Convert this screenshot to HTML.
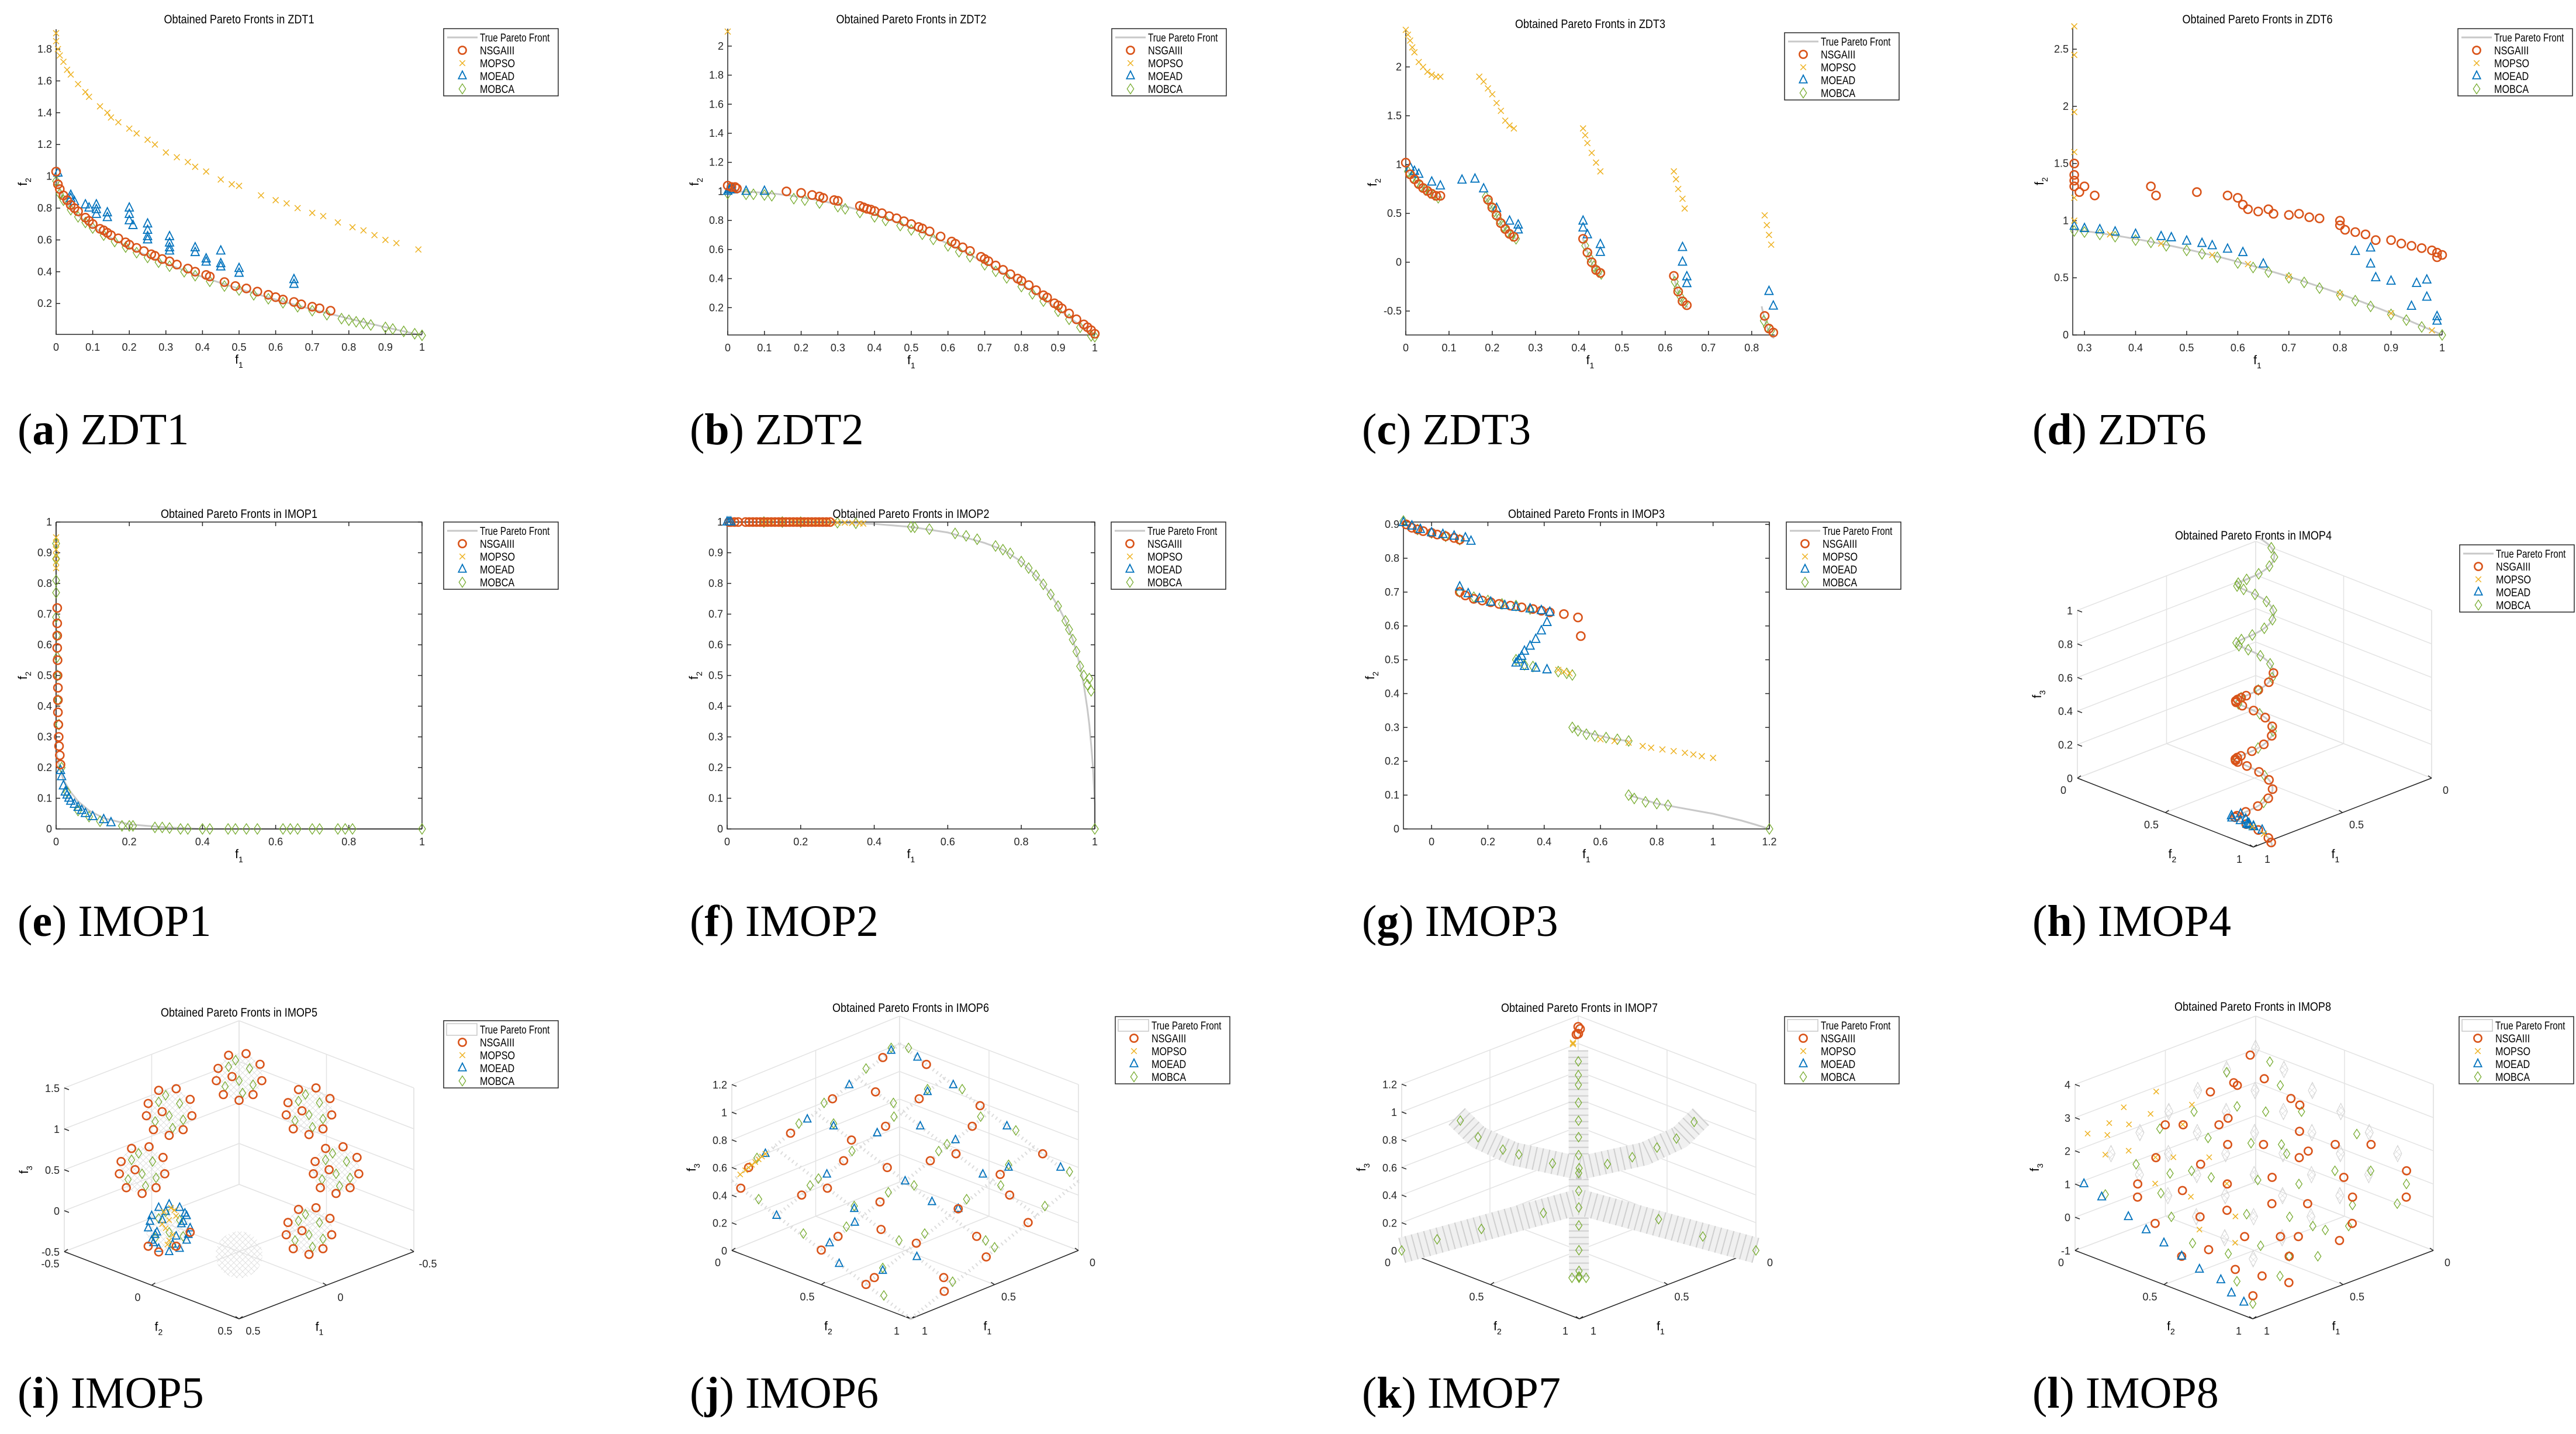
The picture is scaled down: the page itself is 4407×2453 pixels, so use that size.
<!DOCTYPE html>
<html><head><meta charset="utf-8">
<style>
html,body{margin:0;padding:0;background:#fff;}
svg{display:block;font-family:"Liberation Sans",sans-serif;}
.cap{font-family:"Liberation Serif",serif;font-size:76px;fill:#000;}
</style></head>
<body>
<svg id="fig" width="4407" height="2453" viewBox="0 0 4407 2453" xmlns="http://www.w3.org/2000/svg">
<defs>
<pattern id="hatch" width="10" height="10" patternUnits="userSpaceOnUse"><path d="M0,0L10,10M10,0L0,10" stroke="#dcdcdc" stroke-width="0.8"/></pattern>
</defs>
<rect width="4407" height="2453" fill="#fff"/>
</svg>
<script>
// ---------------- DATA ----------------
// ZDT1
const zdt1_ns_x=[0,0.005,0.01,0.02,0.03,0.04,0.05,0.06,0.08,0.09,0.1,0.12,0.13,0.14,0.15,0.17,0.19,0.2,0.22,0.24,0.26,0.27,0.29,0.31,0.33,0.36,0.38,0.41,0.42,0.46,0.49,0.52,0.55,0.58,0.6,0.62,0.65,0.67,0.7,0.72,0.75];
const zdt1_ns_y=[1.03,0.95,0.92,0.88,0.85,0.82,0.8,0.78,0.74,0.72,0.7,0.67,0.66,0.645,0.63,0.61,0.585,0.57,0.55,0.53,0.51,0.5,0.48,0.465,0.445,0.42,0.4,0.38,0.37,0.335,0.31,0.295,0.275,0.255,0.24,0.225,0.21,0.195,0.18,0.17,0.155];
const zdt1_mp_x=[0,0,0.005,0.01,0.02,0.03,0.04,0.06,0.08,0.09,0.12,0.14,0.15,0.17,0.2,0.22,0.25,0.27,0.3,0.33,0.36,0.38,0.41,0.45,0.48,0.5,0.56,0.6,0.63,0.66,0.7,0.73,0.77,0.81,0.84,0.87,0.9,0.93,0.99];
const zdt1_mp_y=[1.9,1.85,1.8,1.76,1.72,1.67,1.64,1.58,1.53,1.5,1.44,1.4,1.37,1.34,1.3,1.27,1.23,1.2,1.15,1.12,1.09,1.06,1.03,0.98,0.95,0.94,0.88,0.85,0.83,0.8,0.77,0.75,0.71,0.68,0.66,0.63,0.6,0.58,0.54];
const zdt1_me_x=[0.005,0.04,0.04,0.05,0.08,0.09,0.11,0.11,0.11,0.14,0.14,0.2,0.2,0.2,0.21,0.25,0.25,0.25,0.25,0.31,0.31,0.31,0.31,0.38,0.38,0.41,0.41,0.45,0.45,0.45,0.5,0.5,0.65,0.65];
const zdt1_me_y=[1.02,0.88,0.86,0.84,0.82,0.8,0.82,0.79,0.76,0.77,0.74,0.8,0.76,0.72,0.69,0.7,0.66,0.62,0.6,0.62,0.58,0.55,0.53,0.55,0.52,0.48,0.46,0.53,0.45,0.43,0.42,0.39,0.35,0.32];
const zdt1_mb_x=[0,0.01,0.02,0.04,0.06,0.08,0.1,0.13,0.16,0.19,0.22,0.25,0.28,0.31,0.35,0.38,0.42,0.46,0.5,0.54,0.58,0.62,0.66,0.7,0.74,0.78,0.8,0.82,0.84,0.86,0.9,0.92,0.95,0.98,1.0];
const zdt1_mb_y=[0.97,0.89,0.85,0.79,0.745,0.71,0.675,0.63,0.59,0.555,0.52,0.49,0.46,0.435,0.4,0.375,0.34,0.31,0.285,0.255,0.23,0.205,0.18,0.155,0.13,0.105,0.095,0.085,0.075,0.065,0.05,0.04,0.025,0.01,0.0];
// ZDT2
const zdt2_ns_x=[0,0.01,0.02,0.025,0.16,0.2,0.23,0.25,0.26,0.29,0.3,0.36,0.37,0.38,0.39,0.4,0.42,0.44,0.46,0.48,0.5,0.52,0.53,0.55,0.58,0.61,0.62,0.64,0.66,0.69,0.7,0.71,0.73,0.75,0.77,0.79,0.8,0.82,0.84,0.86,0.87,0.89,0.9,0.91,0.93,0.95,0.97,0.98,0.99,1.0];
const zdt2_ns_y=[1.04,1.03,1.03,1.02,1.0,0.99,0.975,0.965,0.955,0.94,0.935,0.9,0.89,0.88,0.875,0.865,0.85,0.83,0.815,0.795,0.775,0.755,0.745,0.725,0.69,0.655,0.64,0.615,0.59,0.55,0.535,0.52,0.49,0.46,0.43,0.4,0.385,0.355,0.32,0.285,0.27,0.23,0.215,0.195,0.16,0.12,0.085,0.065,0.045,0.02];
const zdt2_mp_x=[0];
const zdt2_mp_y=[2.1];
const zdt2_me_x=[0,0.005,0.01,0.015,0.05,0.1];
const zdt2_me_y=[1.0,1.01,1.02,1.01,1.0,1.0];
const zdt2_mb_x=[0,0.05,0.07,0.1,0.12,0.18,0.21,0.25,0.3,0.32,0.36,0.4,0.43,0.47,0.5,0.53,0.56,0.6,0.63,0.66,0.7,0.73,0.76,0.8,0.83,0.86,0.9,0.93,0.96,0.99,1.0];
const zdt2_mb_y=[0.985,0.98,0.98,0.975,0.97,0.95,0.94,0.92,0.895,0.88,0.855,0.825,0.8,0.765,0.735,0.705,0.67,0.625,0.585,0.55,0.495,0.45,0.405,0.345,0.295,0.245,0.175,0.12,0.065,0.005,0.0];
// ZDT3
const zdt3_ns_x=[0,0.01,0.02,0.03,0.04,0.05,0.06,0.07,0.08,0.19,0.2,0.21,0.22,0.23,0.24,0.25,0.41,0.42,0.43,0.44,0.45,0.62,0.63,0.64,0.65,0.83,0.84,0.85];
const zdt3_ns_y=[1.02,0.9,0.85,0.8,0.76,0.73,0.7,0.68,0.68,0.64,0.56,0.48,0.4,0.34,0.29,0.26,0.24,0.1,0.0,-0.08,-0.11,-0.14,-0.3,-0.4,-0.44,-0.55,-0.68,-0.72];
const zdt3_mp_x=[0,0.005,0.01,0.015,0.02,0.03,0.04,0.05,0.06,0.07,0.08,0.17,0.18,0.19,0.2,0.21,0.22,0.23,0.24,0.25,0.41,0.415,0.42,0.43,0.44,0.45,0.62,0.625,0.63,0.64,0.645,0.83,0.835,0.84,0.845];
const zdt3_mp_y=[2.38,2.33,2.27,2.2,2.15,2.05,2.0,1.95,1.92,1.9,1.9,1.9,1.85,1.78,1.72,1.63,1.55,1.45,1.4,1.37,1.37,1.3,1.22,1.12,1.02,0.93,0.93,0.85,0.75,0.65,0.55,0.48,0.38,0.28,0.18];
const zdt3_me_x=[0.01,0.02,0.03,0.06,0.08,0.13,0.16,0.18,0.21,0.24,0.26,0.26,0.41,0.41,0.42,0.45,0.45,0.64,0.64,0.65,0.65,0.84,0.85];
const zdt3_me_y=[0.97,0.93,0.9,0.82,0.78,0.84,0.85,0.75,0.55,0.42,0.38,0.33,0.42,0.35,0.28,0.18,0.1,0.15,0.0,-0.15,-0.22,-0.3,-0.45];
const zdt3_mb_x=[0.005,0.015,0.025,0.035,0.045,0.055,0.065,0.075,0.185,0.195,0.205,0.215,0.225,0.235,0.245,0.255,0.415,0.425,0.435,0.445,0.452,0.622,0.628,0.635,0.645,0.828,0.835,0.845];
const zdt3_mb_y=[0.93,0.87,0.82,0.78,0.74,0.71,0.69,0.66,0.67,0.6,0.52,0.44,0.37,0.31,0.27,0.24,0.17,0.05,-0.04,-0.1,-0.12,-0.2,-0.27,-0.35,-0.42,-0.6,-0.66,-0.7];
// ZDT6
const zdt6_ns_x=[0.28,0.28,0.28,0.28,0.29,0.3,0.32,0.43,0.44,0.52,0.58,0.6,0.61,0.62,0.64,0.66,0.67,0.7,0.72,0.74,0.76,0.8,0.8,0.81,0.83,0.85,0.87,0.9,0.92,0.94,0.96,0.98,0.99,1.0,0.99];
const zdt6_ns_y=[1.5,1.4,1.35,1.3,1.25,1.3,1.22,1.3,1.22,1.25,1.22,1.2,1.14,1.1,1.08,1.1,1.06,1.05,1.06,1.03,1.02,1.0,0.96,0.92,0.9,0.88,0.83,0.83,0.8,0.78,0.76,0.74,0.72,0.7,0.68];
const zdt6_mp_x=[0.28,0.28,0.28,0.28,0.28,0.28,0.35,0.45,0.55,0.62,0.7,0.8,0.9,0.98];
const zdt6_mp_y=[2.7,2.45,1.95,1.6,1.2,1.0,0.88,0.8,0.7,0.62,0.51,0.36,0.19,0.04];
const zdt6_me_x=[0.28,0.3,0.33,0.36,0.4,0.45,0.47,0.5,0.53,0.55,0.58,0.61,0.65,0.83,0.86,0.86,0.87,0.9,0.95,0.97,0.94,0.97,0.99,0.99];
const zdt6_me_y=[0.95,0.93,0.92,0.9,0.88,0.86,0.85,0.82,0.8,0.78,0.75,0.72,0.62,0.73,0.76,0.62,0.5,0.47,0.45,0.48,0.25,0.33,0.16,0.12];
const zdt6_mb_x=[0.28,0.3,0.33,0.36,0.4,0.43,0.46,0.5,0.53,0.56,0.6,0.63,0.66,0.7,0.73,0.76,0.8,0.83,0.86,0.9,0.93,0.96,1.0];
const zdt6_mb_y=[0.91,0.9,0.88,0.86,0.83,0.81,0.78,0.74,0.71,0.68,0.63,0.59,0.55,0.5,0.46,0.41,0.35,0.3,0.25,0.18,0.13,0.07,0.0];
// IMOP1
const imop1_tf_x=[0,0,0.01,0.02,0.04,0.06,0.09,0.13,0.2,0.3,0.4,1];
const imop1_tf_y=[1,0.25,0.2,0.16,0.12,0.09,0.06,0.035,0.015,0.005,0,0];
const imop1_mp_x=[0,0,0,0,0,0];
const imop1_mp_y=[0.95,0.93,0.91,0.89,0.87,0.85];
const imop1_ns_x=[0.003,0.003,0.003,0.003,0.004,0.004,0.005,0.005,0.005,0.006,0.007,0.008,0.01,0.012];
const imop1_ns_y=[0.72,0.67,0.63,0.59,0.55,0.5,0.46,0.42,0.38,0.34,0.3,0.27,0.24,0.21];
const imop1_me_x=[0.012,0.015,0.02,0.025,0.03,0.035,0.04,0.05,0.06,0.07,0.08,0.1,0.13,0.15];
const imop1_me_y=[0.19,0.17,0.14,0.12,0.11,0.1,0.09,0.08,0.07,0.06,0.05,0.04,0.03,0.02];
const imop1_mb_x=[0,0,0,0,0,0.002,0.003,0.004,0.005,0.008,0.015,0.03,0.06,0.09,0.12,0.18,0.2,0.21,0.27,0.29,0.31,0.34,0.36,0.4,0.42,0.47,0.49,0.52,0.55,0.62,0.64,0.66,0.7,0.72,0.77,0.79,0.81,1.0];
const imop1_mb_y=[0.93,0.88,0.81,0.77,0.69,0.63,0.56,0.5,0.42,0.34,0.2,0.12,0.06,0.04,0.025,0.01,0.01,0.01,0.005,0.005,0.003,0,0,0,0,0,0,0,0,0,0,0,0,0,0,0,0,0];
// IMOP2
const imop2_tf_x=[0,0.2,0.4,0.5,0.6,0.7,0.75,0.8,0.85,0.88,0.9,0.92,0.94,0.95,0.96,0.97,0.98,0.985,0.99,0.995,1,1];
const imop2_tf_y=[1,0.9996,0.994,0.984,0.966,0.932,0.91,0.871,0.812,0.764,0.726,0.678,0.617,0.578,0.53,0.47,0.39,0.34,0.275,0.2,0.08,0];
const imop2_ns_x=[0.005,0.01,0.02,0.03,0.05,0.06,0.07,0.08,0.09,0.1,0.11,0.12,0.13,0.14,0.15,0.16,0.17,0.18,0.19,0.2,0.21,0.22,0.23,0.24,0.25,0.26,0.27,0.28];
const imop2_ns_y=[1,1,1,1,1,1,1,1,1,1,1,1,1,1,1,1,1,1,1,1,1,1,1,1,1,1,1,1];
const imop2_mp_x=[0.1,0.12,0.15,0.18,0.2,0.22,0.24,0.26,0.28,0.3,0.32,0.34,0.36,0.37];
const imop2_mp_y=[1,1,1,1,1,1,1,1,1,0.998,0.998,0.997,0.996,0.995];
const imop2_me_x=[0,0.005,0.01];
const imop2_me_y=[1,1,1];
const imop2_mb_x=[0.1,0.15,0.2,0.3,0.35,0.5,0.51,0.55,0.62,0.65,0.68,0.73,0.75,0.77,0.8,0.82,0.84,0.86,0.88,0.9,0.92,0.93,0.94,0.95,0.96,0.97,0.98,0.985,0.99,1.0];
const imop2_mb_y=[1,1,0.9996,0.998,0.996,0.984,0.983,0.977,0.963,0.955,0.944,0.922,0.91,0.898,0.871,0.85,0.826,0.797,0.764,0.726,0.678,0.65,0.617,0.578,0.53,0.5,0.47,0.49,0.45,0.0];
// IMOP3
const imop3_tf_x=[0.5,0.55,0.6,0.65,0.7,null,0.7,0.8,0.9,1.0,1.1,1.15,1.2];
const imop3_tf_y=[0.3,0.285,0.275,0.265,0.26,null,0.1,0.075,0.06,0.045,0.025,0.013,0];
const imop3_ns_x=[-0.09,-0.07,-0.05,-0.03,0,0.02,0.05,0.08,0.1,0.1,0.12,0.15,0.18,0.21,0.24,0.28,0.32,0.36,0.39,0.42,0.47,0.52,0.53];
const imop3_ns_y=[0.9,0.89,0.885,0.88,0.875,0.87,0.865,0.86,0.855,0.7,0.69,0.68,0.675,0.67,0.665,0.66,0.655,0.65,0.645,0.64,0.635,0.625,0.57];
const imop3_mp_x=[0.45,0.47,0.49,0.6,0.65,0.7,0.75,0.78,0.82,0.86,0.9,0.93,0.96,1.0];
const imop3_mp_y=[0.47,0.465,0.46,0.265,0.26,0.255,0.245,0.24,0.235,0.23,0.225,0.22,0.215,0.21];
const imop3_me_x=[-0.1,-0.07,-0.04,0,0.04,0.08,0.12,0.14,0.1,0.13,0.17,0.21,0.26,0.3,0.35,0.39,0.42,0.41,0.39,0.37,0.35,0.33,0.32,0.31,0.3,0.33,0.37,0.41];
const imop3_me_y=[0.905,0.895,0.885,0.875,0.87,0.865,0.86,0.85,0.715,0.695,0.68,0.67,0.66,0.655,0.65,0.645,0.64,0.61,0.585,0.56,0.54,0.525,0.51,0.5,0.49,0.48,0.475,0.47];
const imop3_mb_x=[-0.1,-0.05,0,0.05,0.1,0.1,0.15,0.2,0.25,0.3,0.35,0.3,0.33,0.36,0.45,0.48,0.5,0.5,0.52,0.55,0.58,0.62,0.66,0.7,0.7,0.72,0.76,0.8,0.84,1.2];
const imop3_mb_y=[0.91,0.885,0.875,0.865,0.855,0.7,0.685,0.675,0.665,0.66,0.65,0.5,0.485,0.48,0.465,0.46,0.455,0.3,0.29,0.28,0.275,0.27,0.265,0.26,0.1,0.09,0.08,0.075,0.07,0.0];
// IMOP4 (decision parameter s along the front; d = lateral deviation)
const imop4_mb_s=[0.03,0.05,0.07,0.09,0.11,0.13,0.15,0.17,0.19,0.21,0.23,0.25,0.27,0.29,0.31,0.33,0.35,0.37,0.39,0.41,0.44,0.47,0.5,0.54,0.58,0.62,0.66,0.72,0.78,0.84];
const imop4_ns_s=[0.43,0.45,0.47,0.49,0.5,0.51,0.52,0.53,0.55,0.57,0.59,0.61,0.63,0.65,0.67,0.69,0.7,0.71,0.72,0.73,0.75,0.77,0.79,0.81,0.83,0.85,0.87,0.89,0.9,0.94,0.96,0.98,0.99];
const imop4_me_s=[0.88,0.89,0.9,0.905,0.91,0.915,0.92,0.925,0.93,0.935,0.94];
const imop4_me_d=[0,0.05,-0.02,0.08,0.03,0.1,-0.03,0.06,0.12,0.02,0.04];
const imop4_mp_s=[0.95,0.97];
// IMOP5 cluster centres and member offsets (a: lateral, b: vertical)
const imop5_c_f1=[-0.2,0.2,-0.2,0.35,-0.205,0.3,-0.1,0.2];
const imop5_c_f2=[-0.2,-0.2,0.2,-0.205,0.35,-0.1,0.3,0.2];
const imop5_c_f3=[1.31,1.21,1.22,0.62,0.62,-0.05,-0.08,-0.21];
const imop5_ns_a=[0.06,0.03,-0.02,-0.06,-0.065,-0.04,0.0,0.045,0.065,0.02];
const imop5_ns_b=[0.1,0.26,0.28,0.15,-0.05,-0.22,-0.29,-0.22,-0.05,0.0];
const imop5_mb_a=[0.03,-0.03,0.0,0.04,-0.04,0.01,-0.01];
const imop5_mb_b=[0.12,0.1,-0.05,-0.12,-0.1,0.2,-0.2];
const imop5_me_a=[0.06,0.05,0.03,0,-0.03,-0.05,-0.06,-0.05,-0.03,0,0.03,0.05,0.02,-0.02,0.04,-0.04,0.055,-0.055,0.045,-0.045,0.01,-0.01,0.035,-0.035];
const imop5_me_b=[0,0.15,0.25,0.29,0.25,0.15,0,-0.15,-0.25,-0.29,-0.25,-0.15,0.1,-0.1,-0.08,0.08,0.08,-0.08,-0.18,0.18,0.2,-0.2,-0.05,0.05];
const imop5_mp_a=[0.0,0.01,-0.01,0.02,-0.02,0.0,0.015,-0.015,0.005,-0.005];
const imop5_mp_b=[0.1,0.0,-0.08,0.05,0.15,-0.15,0.2,0.22,-0.2,0.25];
// IMOP6
const imop6_grid=[0,0.25,0.5,0.75,1];
const imop6_ns_f1=[0,0,0,0.25,0.25,0.25,0.5,0.5,0.5,0.75,0.75,0.75,1,1,1,0.1,0.4,0.65,0.9,0.15,0.35,0.6,0.85,0.1,0.35,0.65,0.9,0.2,0.45,0.7,0.95,0.3,0.55,0.8];
const imop6_ns_f2=[0.15,0.45,0.8,0.1,0.55,0.85,0.2,0.4,0.9,0.3,0.6,0.95,0.05,0.5,0.75,0,0,0,0,0.25,0.25,0.25,0.25,0.5,0.5,0.5,0.5,0.75,0.75,0.75,0.75,1,1,1];
const imop6_me_f1=[0,0,0,0,0.25,0.25,0.5,0.5,0.75,0.75,1,1,0.05,0.3,0.55,0.8,0.1,0.4,0.7,0.2,0.5,0.8,0.95,0.15,0.45,0.9];
const imop6_me_f2=[0.1,0.3,0.6,0.9,0.35,0.7,0.1,0.65,0.45,0.8,0.25,0.6,0,0,0,0,0.25,0.25,0.25,0.5,0.5,0.5,0.5,0.75,0.75,0.75];
const imop6_mb_f1=[0,0,0,0,0.25,0.25,0.25,0.5,0.5,0.5,0.75,0.75,0.75,1,1,1,0.05,0.2,0.45,0.6,0.85,0.1,0.3,0.55,0.8,0.05,0.3,0.6,0.85,0.15,0.4,0.65,0.9,0.2,0.5,0.75];
const imop6_mb_f2=[0.05,0.35,0.65,0.95,0.2,0.5,0.8,0.1,0.55,0.95,0.25,0.45,0.7,0.15,0.4,0.85,0,0,0,0,0,0.25,0.25,0.25,0.25,0.5,0.5,0.5,0.5,0.75,0.75,0.75,0.75,1,1,1];
const imop6_mp_f1=[0.95,0.92,0.9,0.88,0.86,0.84,0.82,0.8];
const imop6_mp_f2=[0,0,0,0,0,0,0,0];
// IMOP7
const imop7_col_f1=[0.05,0.2,0.35,0.5,0.6,0.7];
const imop7_col_f2=[0.05,0.2,0.35,0.5,0.6,0.7];
const imop7_col_f3=[1.0,0.77,0.54,0.31,0.15,0];
const imop7_arc_f1=[1,0.97,0.92,0.8,0.55,0.4,0.31];
const imop7_arc_f2=[0.31,0.4,0.55,0.8,0.92,0.97,1];
const imop7_arc_f3=[1.12,1.0,0.93,0.89,0.93,1.0,1.12];
const imop7_legL_f1=[1,0.85,0.7,0.55];
const imop7_legL_f2=[0,0.18,0.37,0.55];
const imop7_legL_f3=[0,0.13,0.27,0.4];
const imop7_mb_f1=[0.08,0.12,0.15,0.2,0.25,0.3,0.35,0.4,0.45,0.5,0.55,0.62,0.68,0.7,0.68,0.72,0.7,1,0.97,0.93,0.9,0.85,0.8,0.7,0.6,0.5,0.42,0.35,0.9,0.8,0.65,0.35,0.2,1,0];
const imop7_mb_f2=[0.08,0.12,0.15,0.2,0.25,0.3,0.35,0.4,0.45,0.5,0.55,0.62,0.68,0.7,0.72,0.68,0.7,0.33,0.4,0.5,0.56,0.7,0.8,0.86,0.9,0.94,0.97,1,0.1,0.25,0.45,0.8,0.9,0,1];
const imop7_mb_f3=[0.95,0.89,0.85,0.77,0.69,0.62,0.54,0.46,0.38,0.31,0.23,0.12,0.03,0,0,0,0.01,1.1,1.0,0.94,0.92,0.9,0.89,0.9,0.92,0.96,1.0,1.1,0.08,0.18,0.32,0.3,0.15,0,0];
const imop7_ns_f1=[0.02,0.03,0.01,0.02];
const imop7_ns_f2=[0.01,0.03,0.02,0.02];
const imop7_ns_f3=[1.08,1.1,1.12,1.14];
const imop7_mp_f1=[0.05,0.06];
const imop7_mp_f2=[0.02,0.03];
const imop7_mp_f3=[1.03,1.05];
// IMOP8
const imop8_ns_f1=[0.05,0.1,0.2,0.1,0.3,0.2,0.4,0.15,0.35,0.5,0.25,0.45,0.6,0.05,0.3,0.55,0.7,0.15,0.4,0.65,0.8,0.05,0.25,0.5,0.75,0.9,0.1,0.35,0.6,0.85,1.0,0.2,0.45,0.7,0.95,0.3,0.55,0.8,0.45,0.7,0.9,0.6,0.85,0.75,0.95,0.9];
const imop8_ns_f2=[0.02,0.15,0.08,0.3,0.05,0.45,0.2,0.6,0.4,0.1,0.75,0.55,0.3,0.9,0.85,0.65,0.15,1.0,0.95,0.8,0.5,0.7,0.55,0.98,0.7,0.25,0.35,0.2,0.45,0.9,0.6,0.1,0.3,0.9,0.4,0.55,0.05,1.0,0.75,0.55,0.8,0.85,0.2,0.35,0.95,0.65];
const imop8_mb_f1=[0.02,0.08,0.18,0.28,0.12,0.22,0.32,0.42,0.05,0.15,0.38,0.48,0.58,0.25,0.5,0.62,0.72,0.1,0.33,0.55,0.78,0.88,0.2,0.42,0.66,0.82,0.98,0.3,0.52,0.74,0.92,0.4,0.62,0.86,0.5,0.7,0.94,0.65,0.8,0.98];
const imop8_mb_f2=[0.1,0.22,0.02,0.18,0.38,0.28,0.5,0.08,0.62,0.8,0.36,0.22,0.05,0.7,0.52,0.38,0.25,0.95,0.88,0.75,0.12,0.42,1.0,0.95,0.62,0.3,0.15,0.45,0.85,0.78,0.58,0.65,0.98,0.72,0.9,0.9,0.85,0.3,0.95,0.98];
const imop8_mp_f1=[0.95,0.9,0.85,0.98,0.8,0.75,0.9,0.7,0.85,0.95,0.6,0.8,0.7,0.9,0.65,0.75,1.0,0.85,0.55,0.95];
const imop8_mp_f2=[0.02,0.08,0.04,0.15,0.1,0.02,0.2,0.12,0.3,0.4,0.05,0.35,0.45,0.55,0.25,0.6,0.7,0.75,0.2,0.85];
const imop8_me_f1=[1,1,1,1,1,1,1,0.98,1,1];
const imop8_me_f2=[0.05,0.15,0.3,0.4,0.5,0.6,0.7,0.8,0.88,0.95];

// ---------------- DRAWING ----------------
const NS='http://www.w3.org/2000/svg';
const svg=document.getElementById('fig');
const COL={ns:'#D95319',mp:'#EDB120',me:'#0072BD',mb:'#77AC30',tf:'#c8c8c8'};
function el(tag,at,parent){const e=document.createElementNS(NS,tag);for(const k in at)e.setAttribute(k,at[k]);(parent||svg).appendChild(e);return e;}
function txt(s,at,parent){const e=el('text',at,parent);e.textContent=s;return e;}
function condense(e,f){try{const w=e.getComputedTextLength();e.setAttribute('textLength',(w*f).toFixed(1));e.setAttribute('lengthAdjust','spacingAndGlyphs');}catch(err){}}
function fmt(v){return String(Math.round(v*100)/100);}
const NAMES={ns:'nsgaiii',mp:'mopso',me:'moead',mb:'mobca'};
function mark(g,type,x,y,s){
  let e;
  if(type==='ns'){e=el('circle',{cx:x.toFixed(1),cy:y.toFixed(1),r:(7*s).toFixed(1),fill:'none',stroke:COL.ns,'stroke-width':2.6},g);}
  else if(type==='mp'){const d=5*s;e=el('path',{d:`M${x-d},${y-d}L${x+d},${y+d}M${x-d},${y+d}L${x+d},${y-d}`,stroke:COL.mp,'stroke-width':1.5,fill:'none'},g);}
  else if(type==='me'){e=el('path',{d:`M${x},${y-9*s}L${x+7*s},${y+5*s}L${x-7*s},${y+5*s}Z`,stroke:COL.me,'stroke-width':1.8,fill:'none'},g);}
  else {e=el('path',{d:`M${x},${y-9*s}L${x+6*s},${y}L${x},${y+9*s}L${x-6*s},${y}Z`,stroke:COL.mb,'stroke-width':1.3,fill:'none'},g);}
  
  
  return e;
}
function legend(lx,ly,surf){
  const g=el('g',{});
  
  
  const box=el('rect',{x:lx,y:ly,width:196,height:115,fill:'#fff',stroke:'#262626','stroke-width':1.5},g);
  
  
  const labels=['True Pareto Front','NSGAIII','MOPSO','MOEAD','MOBCA'];
  const keys=['tf','ns','mp','me','mb'];
  for(let i=0;i<5;i++){
    const cy=ly+15+i*22;
    if(i===0){
      if(surf){const r=el('rect',{x:lx+5,y:cy-10,width:52,height:20,fill:'#fff',stroke:COL.tf,'stroke-width':1.5},g);}
      else{const l=el('line',{x1:lx+6,y1:cy,x2:lx+58,y2:cy,stroke:COL.tf,'stroke-width':3},g);}
    } else mark(g,keys[i],lx+32,cy,0.95);
    const t=txt(labels[i],{x:lx+62,y:cy+7,'font-size':19,fill:'#000'},g);
    
    
    condense(t,i===0?0.8:0.85);
  }
}
function title(s,cx,y){const t=txt(s,{x:cx,y:y+7,'font-size':21,'text-anchor':'middle',fill:'#000'});condense(t,0.86);}
function flabel(n,x,y,rot,name){
  const t=el('text',{x:x,y:y,'font-size':21,'text-anchor':'middle',fill:'#000',transform:rot?`rotate(-90 ${x} ${y})`:''});
  
  
  const a=el('tspan',{},t);a.textContent='f';
  const b=el('tspan',{'font-size':14,dy:7},t);b.textContent=n;
}

function panel2D(c){
  const g=el('g',{});
  
  
  const [x0,y0,x1,y1]=c.box;
  const X=v=>x0+(v-c.xl[0])/(c.xl[1]-c.xl[0])*(x1-x0);
  const Y=v=>y1-(v-c.yl[0])/(c.yl[1]-c.yl[0])*(y1-y0);
  if(c.tf){let d='',pen=false;for(let i=0;i<c.tf.x.length;i++){if(c.tf.x[i]===null){pen=false;continue;}d+=(pen?'L':'M')+X(c.tf.x[i]).toFixed(1)+','+Y(c.tf.y[i]).toFixed(1);pen=true;}
    const p=el('path',{d:d,fill:'none',stroke:COL.tf,'stroke-width':3},g);}
  const ax=el('path',{d:`M${x0},${y0}L${x0},${y1}L${x1},${y1}`+(c.boxed?`M${x0},${y0}L${x1},${y0}L${x1},${y1}`:''),fill:'none',stroke:'#262626','stroke-width':1.5},g);
  
  
  c.xt.forEach(v=>{const x=X(v);el('line',{x1:x,y1:y1,x2:x,y2:y1-7,stroke:'#262626','stroke-width':1.5},g);if(c.boxed)el('line',{x1:x,y1:y0,x2:x,y2:y0+7,stroke:'#262626','stroke-width':1.5},g);
    const t=txt(fmt(v),{x:x,y:y1+28,'font-size':18,'text-anchor':'middle',fill:'#262626'},g);});
  c.yt.forEach(v=>{const y=Y(v);el('line',{x1:x0,y1:y,x2:x0+7,y2:y,stroke:'#262626','stroke-width':1.5},g);if(c.boxed)el('line',{x1:x1,y1:y,x2:x1-7,y2:y,stroke:'#262626','stroke-width':1.5},g);
    const t=txt(fmt(v),{x:x0-7,y:y+6,'font-size':18,'text-anchor':'end',fill:'#262626'},g);});
  c.series.forEach(s=>{const sg=el('g',{},g);
    for(let i=0;i<s[1].length;i++)mark(sg,s[0],X(s[1][i]),Y(s[2][i]),1);});
  title('Obtained Pareto Fronts in '+c.name,(x0+x1)/2,c.ty);
  flabel('1',(x0+x1)/2,y1+50,false,'x-axis-title');
  flabel('2',x0-50,(y0+y1)/2,true,'y-axis-title');
  legend(c.leg[0],c.leg[1],false);
}

function panel3D(c){
  const g=el('g',{});
  
  
  const P=(f1,f2,f3)=>{const u=(c.r1[1]-f1)/(c.r1[1]-c.r1[0]),v=(c.r2[1]-f2)/(c.r2[1]-c.r2[0]);
    return [c.F[0]+v*(c.L[0]-c.F[0])+u*(c.R[0]-c.F[0]), c.F[1]+v*(c.L[1]-c.F[1])+u*(c.R[1]-c.F[1])-(f3-c.z[0])*c.kz];};
  const ln=(a,b,col,w,par)=>el('line',{x1:a[0].toFixed(1),y1:a[1].toFixed(1),x2:b[0].toFixed(1),y2:b[1].toFixed(1),stroke:col,'stroke-width':w},par||g);
  const gg=el('g',{},g);
  const GC='#e3e3e3';
  c.zt.forEach(z=>{ln(P(c.r1[1],c.r2[0],z),P(c.r1[0],c.r2[0],z),GC,1.5,gg);ln(P(c.r1[0],c.r2[0],z),P(c.r1[0],c.r2[1],z),GC,1.5,gg);});
  c.ft1.forEach(f=>{ln(P(f,c.r2[0],c.z[0]),P(f,c.r2[0],c.z[1]),GC,1.5,gg);ln(P(f,c.r2[0],c.z[0]),P(f,c.r2[1],c.z[0]),GC,1.5,gg);});
  c.ft2.forEach(f=>{ln(P(c.r1[0],f,c.z[0]),P(c.r1[0],f,c.z[1]),GC,1.5,gg);ln(P(c.r1[0],f,c.z[0]),P(c.r1[1],f,c.z[0]),GC,1.5,gg);});
  ln(P(c.r1[1],c.r2[0],c.z[0]),P(c.r1[1],c.r2[0],c.z[1]),GC,1.5,gg);
  ln(P(c.r1[0],c.r2[1],c.z[0]),P(c.r1[0],c.r2[1],c.z[1]),GC,1.5,gg);
  const A=el('g',{},g);
  ln(P(c.r1[1],c.r2[0],c.z[0]),P(c.r1[1],c.r2[1],c.z[0]),'#262626',1.5,A);
  ln(P(c.r1[1],c.r2[1],c.z[0]),P(c.r1[0],c.r2[1],c.z[0]),'#262626',1.5,A);
  c.zt.forEach(z=>{const p=P(c.r1[1],c.r2[0],z);ln(p,[p[0]+8,p[1]+3],'#262626',1.5,A);
    const t=txt(fmt(z),{x:p[0]-8,y:p[1]+7,'font-size':18,'text-anchor':'end',fill:'#262626'},g);});
  c.ft2.forEach(f=>{const p=P(c.r1[1],f,c.z[0]);ln(p,[p[0]+6,p[1]-4],'#262626',1.5,A);
    const t=txt(fmt(f),{x:p[0]-24,y:p[1]+27,'font-size':18,'text-anchor':'middle',fill:'#262626'},g);});
  c.ft1.forEach(f=>{const p=P(f,c.r2[1],c.z[0]);ln(p,[p[0]-6,p[1]-4],'#262626',1.5,A);
    const t=txt(fmt(f),{x:p[0]+24,y:p[1]+27,'font-size':18,'text-anchor':'middle',fill:'#262626'},g);});
  const Lp=P(c.r1[1],c.r2[0],c.z[0]),Fp=P(c.r1[1],c.r2[1],c.z[0]),Rp=P(c.r1[0],c.r2[1],c.z[0]);
  flabel('2',(Lp[0]+Fp[0])/2+12,(Lp[1]+Fp[1])/2+78,false,'f2-axis-title');
  flabel('1',(Rp[0]+Fp[0])/2-12,(Rp[1]+Fp[1])/2+78,false,'f1-axis-title');
  const zm=P(c.r1[1],c.r2[0],(c.z[0]+c.z[1])/2);
  flabel('3',Lp[0]-62,zm[1],true,'f3-axis-title');
  c.draw(g,P);
  title('Obtained Pareto Fronts in '+c.name,c.F[0],c.ty);
  legend(c.leg[0],c.leg[1],c.surf);
}
function series3D(g,P,type,f1,f2,f3,s){const sg=el('g',{},g);
  for(let i=0;i<f1.length;i++){const p=P(f1[i],f2[i],f3[i]);mark(sg,type,p[0],p[1],s);}}
function poly3D(g,P,f1,f2,f3,at){const pts=f1.map((v,i)=>P(v,f2[i],f3[i]).map(n=>n.toFixed(1)).join(',')).join(' ');const e=el('polyline',Object.assign({points:pts,fill:'none'},at),g);return e;}

function curve(fn,a,b,n){const x=[],y=[];for(let i=0;i<=n;i++){const t=a+(b-a)*i/n;x.push(t);y.push(fn(t));}return {x,y};}
const zdt3f=t=>1-Math.sqrt(t)-t*Math.sin(10*Math.PI*t);
function zdt3front(){const segs=[[0,0.083],[0.183,0.258],[0.409,0.454],[0.618,0.653],[0.823,0.852]];const x=[],y=[];segs.forEach(s=>{const c=curve(zdt3f,s[0],s[1],20);x.push(...c.x,null);y.push(...c.y,null);});return {x,y};}
const zdt6tf=curve(t=>1-t*t,0.2807,1,60);

const rng=(a,b,s)=>{const r=[];for(let v=a;v<=b+1e-9;v+=s)r.push(Math.round(v*100)/100);return r;};

panel2D({id:'zdt1',name:'ZDT1',box:[96,50,722,572],xl:[0,1],yl:[0.006,1.925],xt:rng(0,1,0.1),yt:rng(0.2,1.8,0.2),boxed:false,ty:33,leg:[759,49],
  tf:curve(t=>1-Math.sqrt(t),0,1,80),
  series:[['mb',zdt1_mb_x,zdt1_mb_y],['me',zdt1_me_x,zdt1_me_y],['mp',zdt1_mp_x,zdt1_mp_y],['ns',zdt1_ns_x,zdt1_ns_y]]});
panel2D({id:'zdt2',name:'ZDT2',box:[1245,49,1873,573],xl:[0,1],yl:[0.012,2.12],xt:rng(0,1,0.1),yt:rng(0.2,2,0.2),boxed:false,ty:33,leg:[1902,49],
  tf:curve(t=>1-t*t,0,1,60),
  series:[['mb',zdt2_mb_x,zdt2_mb_y],['me',zdt2_me_x,zdt2_me_y],['mp',zdt2_mp_x,zdt2_mp_y],['ns',zdt2_ns_x,zdt2_ns_y]]});
panel2D({id:'zdt3',name:'ZDT3',box:[2405,51,3036,573],xl:[0,0.853],yl:[-0.745,2.38],xt:rng(0,0.8,0.1),yt:[-0.5,0,0.5,1,1.5,2],boxed:false,ty:41,leg:[3053,56],
  tf:zdt3front(),
  series:[['mb',zdt3_mb_x,zdt3_mb_y],['me',zdt3_me_x,zdt3_me_y],['mp',zdt3_mp_x,zdt3_mp_y],['ns',zdt3_ns_x,zdt3_ns_y]]});
panel2D({id:'zdt6',name:'ZDT6',box:[3546,47,4178,573],xl:[0.277,1],yl:[0,2.69],xt:rng(0.3,1,0.1),yt:[0,0.5,1,1.5,2,2.5],boxed:false,ty:33,leg:[4205,49],
  tf:zdt6tf,
  series:[['mb',zdt6_mb_x,zdt6_mb_y],['me',zdt6_me_x,zdt6_me_y],['mp',zdt6_mp_x,zdt6_mp_y],['ns',zdt6_ns_x,zdt6_ns_y]]});
panel2D({id:'imop1',name:'IMOP1',box:[96,893,722,1418],xl:[0,1],yl:[0,1],xt:rng(0,1,0.2),yt:rng(0,1,0.1),boxed:true,ty:879,leg:[759,893],
  tf:{x:imop1_tf_x,y:imop1_tf_y},
  series:[['mb',imop1_mb_x,imop1_mb_y],['me',imop1_me_x,imop1_me_y],['ns',imop1_ns_x,imop1_ns_y],['mp',imop1_mp_x,imop1_mp_y]]});
panel2D({id:'imop2',name:'IMOP2',box:[1244,893,1873,1418],xl:[0,1],yl:[0,1],xt:rng(0,1,0.2),yt:rng(0,1,0.1),boxed:true,ty:879,leg:[1901,893],
  tf:{x:imop2_tf_x,y:imop2_tf_y},
  series:[['mb',imop2_mb_x,imop2_mb_y],['mp',imop2_mp_x,imop2_mp_y],['ns',imop2_ns_x,imop2_ns_y],['me',imop2_me_x,imop2_me_y]]});
panel2D({id:'imop3',name:'IMOP3',box:[2401,893,3027,1418],xl:[-0.1,1.2],yl:[0,0.907],xt:rng(0,1.2,0.2),yt:rng(0,0.9,0.1),boxed:true,ty:879,leg:[3056,893],
  tf:{x:imop3_tf_x,y:imop3_tf_y},
  series:[['mb',imop3_mb_x,imop3_mb_y],['mp',imop3_mp_x,imop3_mp_y],['ns',imop3_ns_x,imop3_ns_y],['me',imop3_me_x,imop3_me_y]]});

// IMOP4 mapping from parameter s to objective space (mostly lateral wiggle)
const imop4=(s,d)=>[s-0.053*Math.sin(33*s), s+0.053*Math.sin(33*s)+(d||0), 1-s+0.03*Math.cos(33*s)];
panel3D({id:'imop4',name:'IMOP4',F:[3855,1449],L:[3554,1331],R:[4160,1331],kz:287,z:[0,1],zt:rng(0,1,0.2),r1:[0,1],r2:[0,1],ft1:[0,0.5,1],ft2:[0,0.5,1],ty:916,leg:[4208,932],surf:false,
  draw:(g,P)=>{
    const ts=[];for(let i=0;i<=240;i++)ts.push(i/240);
    const tp=ts.map(s=>imop4(s));
    const tf=poly3D(g,P,tp.map(p=>p[0]),tp.map(p=>p[1]),tp.map(p=>p[2]),{stroke:COL.tf,'stroke-width':3});
    
    
    const m=(arr,d)=>arr.map((s,i)=>imop4(s,d?d[i]:0));
    const a=m(imop4_mb_s);series3D(g,P,'mb',a.map(p=>p[0]),a.map(p=>p[1]),a.map(p=>p[2]),1);
    const b=m(imop4_ns_s);series3D(g,P,'ns',b.map(p=>p[0]),b.map(p=>p[1]),b.map(p=>p[2]),1);
    const c=m(imop4_me_s,imop4_me_d);series3D(g,P,'me',c.map(p=>p[0]),c.map(p=>p[1]),c.map(p=>p[2]),1);
    const d=m(imop4_mp_s);series3D(g,P,'mp',d.map(p=>p[0]),d.map(p=>p[1]),d.map(p=>p[2]),1);
  }});

panel3D({id:'imop5',name:'IMOP5',F:[409,2256],L:[110,2141],R:[708,2141],kz:140,z:[-0.5,1.5],zt:[-0.5,0,0.5,1,1.5],r1:[-0.5,0.5],r2:[-0.5,0.5],ft1:[-0.5,0,0.5],ft2:[-0.5,0,0.5],ty:1732,leg:[759,1746],surf:true,
  draw:(g,P)=>{
    const cg=el('g',{},g);
    imop5_c_f1.forEach((f,i)=>{const p=P(f,imop5_c_f2[i],imop5_c_f3[i]);el('ellipse',{cx:p[0],cy:p[1],rx:40,ry:40,fill:'url(#hatch)',stroke:'none'},cg);});
    const off=(ia,ib,clusters)=>{const f1=[],f2=[],f3=[];clusters.forEach(k=>{ia.forEach((a,j)=>{f1.push(imop5_c_f1[k]+a);f2.push(imop5_c_f2[k]-a);f3.push(imop5_c_f3[k]+ib[j]);});});return [f1,f2,f3];};
    let s=off(imop5_mb_a,imop5_mb_b,[0,1,2,3,4,5,6]);series3D(g,P,'mb',s[0],s[1],s[2],0.9);
    s=off(imop5_ns_a,imop5_ns_b,[0,1,2,3,4,6]);series3D(g,P,'ns',s[0],s[1],s[2],0.95);
    s=off(imop5_me_a,imop5_me_b,[5]);series3D(g,P,'me',s[0],s[1],s[2],0.9);
    s=off(imop5_mp_a,imop5_mp_b,[5]);series3D(g,P,'mp',s[0],s[1],s[2],0.9);
    s=off(imop5_ns_a.slice(0,4),imop5_ns_b.slice(5,9),[5]);series3D(g,P,'ns',s[0],s[1],s[2],0.95);
  }});

const imop6z=(a,b)=>1-0.5*(a+b);
panel3D({id:'imop6',name:'IMOP6',F:[1558,2256],L:[1252,2139],R:[1845,2139],kz:236.5,z:[0,1.2],zt:rng(0,1.2,0.2),r1:[0,1],r2:[0,1],ft1:[0,0.5,1],ft2:[0,0.5,1],ty:1724,leg:[1908,1739],surf:true,
  draw:(g,P)=>{
    const tg=el('g',{},g);
    imop6_grid.forEach(k=>{poly3D(tg,P,[k,k],[0,1],[imop6z(k,0),imop6z(k,1)],{stroke:'#dcdcdc','stroke-width':6,'stroke-dasharray':'2 6'});
      poly3D(tg,P,[0,1],[k,k],[imop6z(0,k),imop6z(1,k)],{stroke:'#dcdcdc','stroke-width':6,'stroke-dasharray':'2 6'});});
    series3D(g,P,'mb',imop6_mb_f1,imop6_mb_f2,imop6_mb_f1.map((v,i)=>imop6z(v,imop6_mb_f2[i])+0.02),0.9);
    series3D(g,P,'me',imop6_me_f1,imop6_me_f2,imop6_me_f1.map((v,i)=>imop6z(v,imop6_me_f2[i])),0.9);
    series3D(g,P,'ns',imop6_ns_f1,imop6_ns_f2,imop6_ns_f1.map((v,i)=>imop6z(v,imop6_ns_f2[i])),0.95);
    series3D(g,P,'mp',imop6_mp_f1,imop6_mp_f2,imop6_mp_f1.map((v,i)=>imop6z(v,imop6_mp_f2[i])),0.9);
  }});

panel3D({id:'imop7',name:'IMOP7',F:[2702,2256],L:[2398,2139],R:[3004,2139],kz:237,z:[0,1.2],zt:rng(0,1.2,0.2),r1:[0,1],r2:[0,1],ft1:[0,0.5,1],ft2:[0,0.5,1],ty:1724,leg:[3053,1739],surf:true,
  draw:(g,P)=>{
    const tg=el('g',{},g);
    const band=(a,b,c,w)=>{poly3D(tg,P,a,b,c,{stroke:'#f0f0f0','stroke-width':w,'stroke-linejoin':'round'});poly3D(tg,P,a,b,c,{stroke:'#cfcfcf','stroke-width':w,'stroke-dasharray':'2 9'});};
    band(imop7_col_f1,imop7_col_f2,imop7_col_f3,34);
    band(imop7_arc_f1,imop7_arc_f2,imop7_arc_f3,40);
    band(imop7_legL_f1,imop7_legL_f2,imop7_legL_f3,44);
    band(imop7_legL_f2,imop7_legL_f1,imop7_legL_f3,44);
    series3D(g,P,'mb',imop7_mb_f1,imop7_mb_f2,imop7_mb_f3,0.9);
    series3D(g,P,'mp',imop7_mp_f1,imop7_mp_f2,imop7_mp_f3,1);
    series3D(g,P,'ns',imop7_ns_f1,imop7_ns_f2,imop7_ns_f3,1);
  }});

const imop8z=(a,b)=>3.1-1.9*(a+b);
panel3D({id:'imop8',name:'IMOP8',F:[3854,2256],L:[3550,2139],R:[4163,2139],kz:56.8,z:[-1,4],zt:[-1,0,1,2,3,4],r1:[0,1],r2:[0,1],ft1:[0,0.5,1],ft2:[0,0.5,1],ty:1722,leg:[4207,1739],surf:true,
  draw:(g,P)=>{
    const tg=el('g',{},g);
    for(let a=0.06;a<1;a+=0.16)for(let b=0.06;b<1;b+=0.16){const p=P(a,b,imop8z(a,b)+0.4);el('path',{d:`M${p[0]},${p[1]-14}L${p[0]+7},${p[1]}L${p[0]},${p[1]+14}L${p[0]-7},${p[1]}Z`,fill:'url(#hatch)',stroke:'#d0d0d0','stroke-width':1},tg);}
    series3D(g,P,'mb',imop8_mb_f1,imop8_mb_f2,imop8_mb_f1.map((v,i)=>imop8z(v,imop8_mb_f2[i])),0.9);
    series3D(g,P,'mp',imop8_mp_f1,imop8_mp_f2,imop8_mp_f1.map((v,i)=>imop8z(v,imop8_mp_f2[i])+1.2),0.9);
    series3D(g,P,'ns',imop8_ns_f1,imop8_ns_f2,imop8_ns_f1.map((v,i)=>imop8z(v,imop8_ns_f2[i])),0.95);
    series3D(g,P,'me',imop8_me_f1,imop8_me_f2,imop8_me_f1.map((v,i)=>imop8z(v,imop8_me_f2[i])),0.95);
  }});

const caps=[['a','ZDT1',30,760],['b','ZDT2',1180,760],['c','ZDT3',2330,760],['d','ZDT6',3477,760],
  ['e','IMOP1',30,1601],['f','IMOP2',1180,1601],['g','IMOP3',2330,1601],['h','IMOP4',3477,1601],
  ['i','IMOP5',30,2408],['j','IMOP6',1180,2408],['k','IMOP7',2330,2408],['l','IMOP8',3477,2408]];
caps.forEach(c=>{
  const t=el('text',{x:c[2],y:c[3],class:'cap'});
  
  
  const a=el('tspan',{},t);a.textContent='(';
  const b=el('tspan',{'font-weight':'bold'},t);b.textContent=c[0];
  const d=el('tspan',{},t);d.textContent=') '+c[1];
});
</script>
</body></html>
